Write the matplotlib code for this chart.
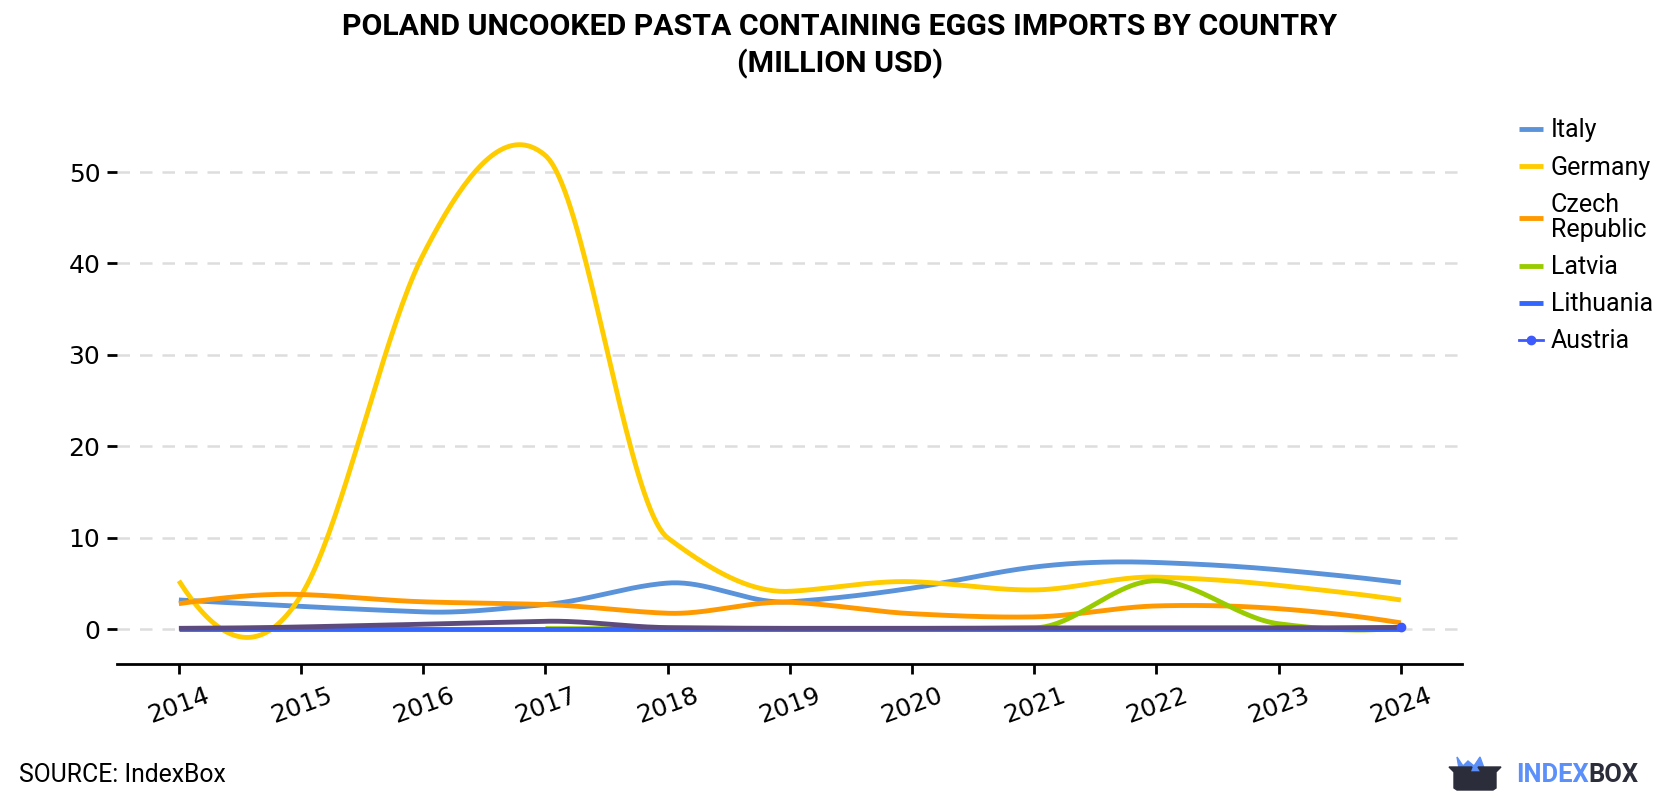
import numpy as np
import matplotlib
matplotlib.use("Agg")
import matplotlib.pyplot as plt
from matplotlib.patches import Polygon

years = [2014, 2015, 2016, 2017, 2018, 2019, 2020, 2021, 2022, 2023, 2024]
italy = [3.2, 2.5, 1.9, 2.7, 5.05, 3.0, 4.5, 6.8, 7.3, 6.5, 5.1]
germany = [5.3, 3.7, 41.0, 51.8, 10.0, 4.15, 5.2, 4.3, 5.7, 4.8, 3.2]
czech = [2.8, 3.8, 3.0, 2.7, 1.75, 2.95, 1.7, 1.35, 2.55, 2.25, 0.7]
latvia = [None, None, None, 0.07, 0.05, 0.05, 0.05, 0.15, 5.3, 0.6, 0.2]
lithuania = [0.05, 0.05, 0.05, 0.05, 0.05, 0.05, 0.05, 0.05, 0.05, 0.05, 0.05]
other = [0.1, 0.25, 0.55, 0.87, 0.18, 0.1, 0.1, 0.15, 0.15, 0.15, 0.2]
austria = [None, None, None, None, None, None, None, None, None, None, 0.25]

labels = ["Italy", "Germany", "Czech\nRepublic", "Latvia", "Lithuania", "Austria"]
colors = ["#5a93d9", "#ffcc00", "#ff9900", "#99cc00", "#3366ff", "#3d5afe"]
other_color = "#5e4b7e"


def akima(xs, ys, n=400):
    x = np.asarray(xs, float)
    y = np.asarray(ys, float)
    k = len(x)
    if k < 3:
        return x, y
    dx = np.diff(x)
    m = np.empty(k + 3)
    m[2:-2] = np.diff(y) / dx
    m[1] = 2 * m[2] - m[3]
    m[0] = 2 * m[1] - m[2]
    m[-2] = 2 * m[-3] - m[-4]
    m[-1] = 2 * m[-2] - m[-3]
    t = 0.5 * (m[3:] + m[:-3])
    dm = np.abs(np.diff(m))
    f1 = dm[2:]
    f2 = dm[:-2]
    f12 = f1 + f2
    ind = f12 > 1e-9 * np.max(f12)
    t[ind] = (f1[ind] * m[1:-2][ind] + f2[ind] * m[2:-1][ind]) / f12[ind]
    xx = np.linspace(x[0], x[-1], n)
    idx = np.clip(np.searchsorted(x, xx) - 1, 0, k - 2)
    h = dx[idx]
    s = (xx - x[idx]) / h
    p0, p1 = y[idx], y[idx + 1]
    m0, m1 = t[idx] * h, t[idx + 1] * h
    yy = ((2 * s ** 3 - 3 * s ** 2 + 1) * p0 + (s ** 3 - 2 * s ** 2 + s) * m0
          + (-2 * s ** 3 + 3 * s ** 2) * p1 + (s ** 3 - s ** 2) * m1)
    return xx, yy


def clean(vals):
    xs = [y for y, v in zip(years, vals) if v is not None]
    vs = [v for v in vals if v is not None]
    return xs, vs


fig = plt.figure(figsize=(16.8, 8), dpi=100)
ax = fig.add_axes([0.0696, 0.17, 0.8006, 0.695])

series = [italy, germany, czech, latvia, lithuania]
for vals, lab, col in zip(series, labels[:5], colors[:5]):
    xs, vs = clean(vals)
    xx, yy = akima(xs, vs)
    ax.plot(xx, yy, color=col, lw=3.5, label=lab, solid_capstyle="butt", zorder=3)

xs, vs = clean(other)
xx, yy = akima(xs, vs)
ax.plot(xx, yy, color=other_color, lw=3.5, solid_capstyle="butt", zorder=3, label="_nolegend_")

xs, vs = clean(austria)
ax.plot(xs, vs, color=colors[5], lw=2, marker="o", markersize=6, label=labels[5], zorder=4)

ax.set_xlim(2013.493, 2024.5)
ax.set_ylim(-3.8, 57)
ax.set_xticks(years)
ax.set_xticklabels([str(y) for y in years], rotation=20, fontsize=18, family="DejaVu Sans")
ax.set_yticks([0, 10, 20, 30, 40, 50])
ax.set_yticklabels(["0", "10", "20", "30", "40", "50"], fontsize=18, family="DejaVu Sans")
ax.tick_params(axis="y", length=7, width=2, pad=5, color="black")
ax.tick_params(axis="x", length=7, width=2, pad=7, color="black")
ax.grid(axis="y", color="#dddddd", linestyle=(0, (5, 4)), lw=1.8, zorder=0)
ax.set_axisbelow(True)
for s in ["top", "right", "left"]:
    ax.spines[s].set_visible(False)
ax.spines["bottom"].set_linewidth(2)

leg = ax.legend(loc="upper left", bbox_to_anchor=(1519 / 1680, 1 - 118.5 / 800), bbox_transform=fig.transFigure,
                frameon=False, prop={"family": "Roboto", "size": 18}, handlelength=0.96,
                handletextpad=0.32, labelspacing=0.52, borderpad=0, borderaxespad=0)
for txt in leg.get_texts():
    txt.set_linespacing(1.1)

fig.text(0.5, 1 - 27 / 800, "POLAND UNCOOKED PASTA CONTAINING EGGS IMPORTS BY COUNTRY", ha="center", va="center",
         fontsize=21.8, fontweight="bold", family="Roboto")
fig.text(0.5, 1 - 64 / 800, "(MILLION USD)", ha="center", va="center",
         fontsize=21.8, fontweight="bold", family="Roboto")

fig.text(19 / 1680, 1 - 775 / 800, "SOURCE: IndexBox", ha="left", va="center", fontsize=17.8, family="Roboto")

# logo
t1 = fig.text(1516 / 1680, 1 - 775 / 800, "INDEX", ha="left", va="center", fontsize=18.4,
              fontweight="bold", family="Roboto", color="#5b8ff9")
fig.canvas.draw()
bb = t1.get_window_extent()
fig.text(bb.x1 / 1680, 1 - 775 / 800, "BOX", ha="left", va="center", fontsize=18.4,
         fontweight="bold", family="Roboto", color="#2b2d3a")
lax = fig.add_axes([1448 / 1680, 1 - 792 / 800, 54 / 1680, 40 / 800])
lax.set_xlim(0, 54)
lax.set_ylim(40, 0)
lax.axis("off")
lax.add_patch(Polygon([[9, 5], [15, 14], [20, 9], [26, 14], [32, 5], [36, 16], [30, 22], [12, 22]],
                      closed=True, color="#5b8ff9"))
lax.add_patch(Polygon([[1, 15], [24, 15], [22, 20], [33, 20], [30, 15], [53, 15], [48, 20], [48, 36],
                       [45, 38], [9, 38], [6, 36], [6, 20]], closed=True, color="#2b2d3a"))

fig.savefig("out.png", dpi=100)
